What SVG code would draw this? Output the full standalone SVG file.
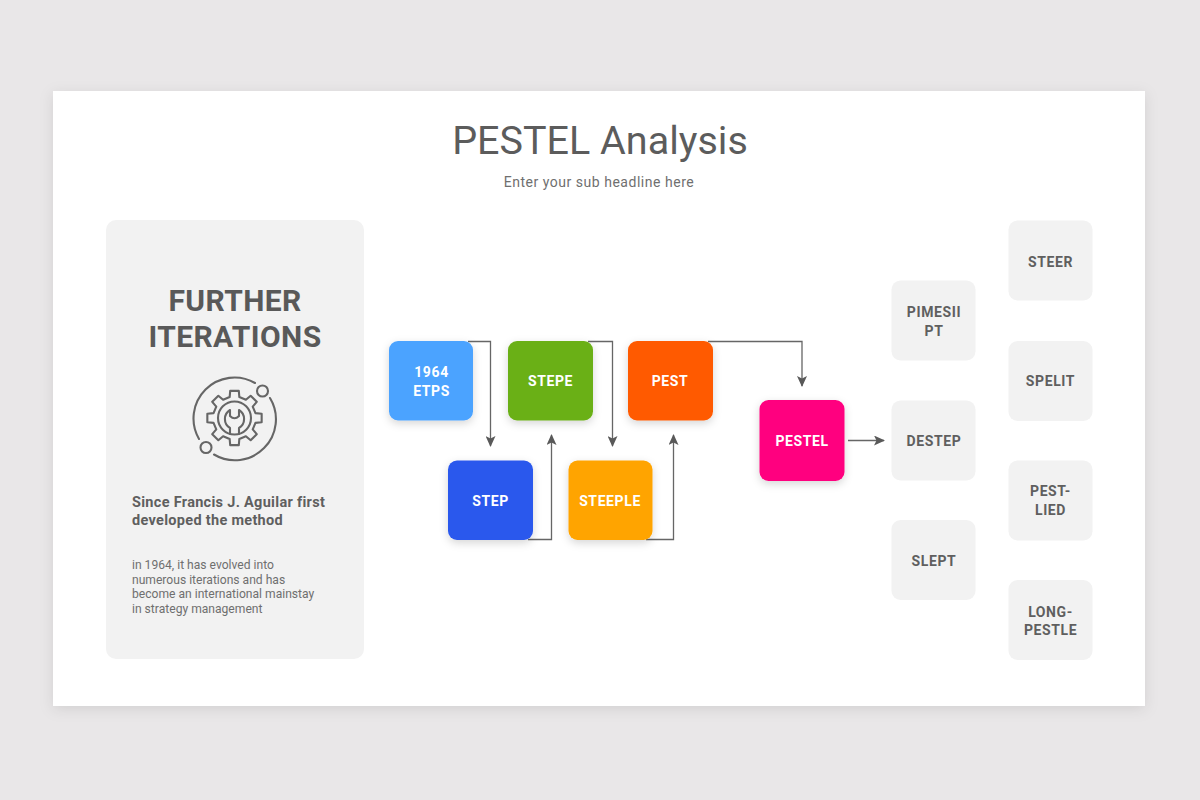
<svg xmlns="http://www.w3.org/2000/svg" width="1200" height="800" viewBox="0 0 1200 800">
<defs>
<filter id="cardShadow" x="-5%" y="-5%" width="110%" height="112%"><feDropShadow dx="0" dy="3" stdDeviation="7" flood-color="#000" flood-opacity="0.1"/></filter>
<filter id="nodeShadow" x="-20%" y="-20%" width="140%" height="150%"><feDropShadow dx="0" dy="3" stdDeviation="4" flood-color="#000" flood-opacity="0.16"/></filter>
<marker id="arrow" viewBox="0 0 11 10" markerWidth="11" markerHeight="10" refX="10" refY="5" orient="auto" markerUnits="userSpaceOnUse"><path d="M0 0L11 5L0 10L2.500 5Z" fill="#595959"/></marker>
</defs>
<style>
text{font-family:Roboto,"Liberation Sans",sans-serif;text-anchor:middle}
.n rect{filter:url(#nodeShadow)}
.n text{fill:#fff;font-size:14px;font-weight:700;letter-spacing:.6px}
.g rect{fill:#f2f2f2}
.g text{fill:#5f5f5f;font-size:14px;font-weight:700;letter-spacing:.6px}
.c path{fill:none;stroke:#666;stroke-width:1.3;marker-end:url(#arrow)}
.ic{fill:none;stroke:#666;stroke-width:2.100;stroke-linejoin:round;stroke-linecap:round}
.l{text-anchor:start;fill:#6f6f6f;font-size:12.100px}
.b{text-anchor:start;fill:#5f5f5f;font-size:14.500px;font-weight:700;letter-spacing:.3px}
.h{fill:#595959;font-size:30px;font-weight:700;letter-spacing:.4px}
</style>
<rect width="1200" height="800" fill="#e9e7e8"/>
<rect x="53" y="91" width="1092" height="615" fill="#fff" filter="url(#cardShadow)"/>
<text x="600" y="154" font-size="39.500" fill="#5c5c5c">PESTEL Analysis</text>
<text x="599" y="187" font-size="14" letter-spacing=".52" fill="#6f6f6f">Enter your sub headline here</text>
<g id="panel">
<rect x="106" y="220" width="258" height="439" rx="10" fill="#f2f2f2"/>
<text class="h" x="235" y="311">FURTHER</text>
<text class="h" x="235" y="347">ITERATIONS</text>
<g class="ic">
<path d="M255 383A41 41 0 0 0 199 439"/>
<path d="M270 398A41 41 0 0 1 214 454.500"/>
<circle cx="262.500" cy="391" r="5.500"/>
<circle cx="206" cy="447.500" r="5.500"/>
<path transform="translate(234.500 418)" d="M20.950 -4.840L27.160 -4.300V4.300L20.950 4.840L18.230 11.390L22.250 16.160L16.160 22.250L11.390 18.230L4.840 20.950L4.300 27.160H-4.300L-4.840 20.950L-11.390 18.230L-16.160 22.250L-22.250 16.160L-18.230 11.390L-20.950 4.840L-27.160 4.300V-4.300L-20.950 -4.840L-18.230 -11.390L-22.250 -16.160L-16.160 -22.250L-11.390 -18.230L-4.840 -20.950L-4.300 -27.160H4.300L4.840 -20.950L11.390 -18.230L16.160 -22.250L22.250 -16.160L18.230 -11.390Z"/>
<circle cx="234.500" cy="418" r="16.500"/>
<path d="M230 410A10.500 10.500 0 0 0 230 428V434M239 410A10.500 10.500 0 0 1 239 428V434M230 410V416Q234.500 420.500 239 416V410"/>
</g>
<text class="b" x="132" y="507">Since Francis J. Aguilar first</text>
<text class="b" x="132" y="525">developed the method</text>
<text class="l" x="132" y="569">in 1964, it has evolved into</text>
<text class="l" x="132" y="584">numerous iterations and has</text>
<text class="l" x="132" y="598">become an international mainstay</text>
<text class="l" x="132" y="613">in strategy management</text>
</g>
<g id="connectors" class="c">
<path d="M468 341.500H490.500V446"/>
<path d="M588 341.500H612.500V446"/>
<path d="M708 341.500H802V386"/>
<path d="M528 539.500H551.500V435"/>
<path d="M646 539.500H673.500V435"/>
<path d="M848 440.500H884"/>
</g>
<g id="n-1964" class="n"><rect x="389" y="341" width="84" height="79.500" rx="9" fill="#4ba3ff"/><text x="431.500" y="377">1964</text><text x="431.500" y="395.500">ETPS</text></g>
<g id="n-stepe" class="n"><rect x="508" y="341" width="85" height="79.500" rx="9" fill="#6ab016"/><text x="550.500" y="386">STEPE</text></g>
<g id="n-pest" class="n"><rect x="628" y="341" width="85" height="79.500" rx="9" fill="#ff5a00"/><text x="670" y="386">PEST</text></g>
<g id="n-step" class="n"><rect x="448" y="460.500" width="85" height="79.500" rx="9" fill="#2b58ed"/><text x="490.500" y="505.500">STEP</text></g>
<g id="n-steeple" class="n"><rect x="568.500" y="460.500" width="84" height="79.500" rx="9" fill="#ffa400"/><text x="610" y="505.500">STEEPLE</text></g>
<g id="n-pestel" class="n"><rect x="759.500" y="400" width="85" height="81" rx="9" fill="#ff007f"/><text x="802" y="445.500">PESTEL</text></g>
<g id="n-pimesii" class="g"><rect x="891.500" y="280.500" width="84" height="80" rx="9"/><text x="934" y="317">PIMESII</text><text x="934" y="335.500">PT</text></g>
<g id="n-destep" class="g"><rect x="891.500" y="400.500" width="84" height="80" rx="9"/><text x="934" y="445.500">DESTEP</text></g>
<g id="n-slept" class="g"><rect x="891.500" y="520" width="84" height="80" rx="9"/><text x="934" y="566">SLEPT</text></g>
<g id="n-steer" class="g"><rect x="1008.500" y="220.500" width="84" height="80" rx="9"/><text x="1050.500" y="266.500">STEER</text></g>
<g id="n-spelit" class="g"><rect x="1008.500" y="341" width="84" height="80" rx="9"/><text x="1050.500" y="386">SPELIT</text></g>
<g id="n-pest-lied" class="g"><rect x="1008.500" y="460.500" width="84" height="80" rx="9"/><text x="1050.500" y="496">PEST-</text><text x="1050.500" y="515">LIED</text></g>
<g id="n-long-pestle" class="g"><rect x="1008.500" y="580" width="84" height="80" rx="9"/><text x="1050.500" y="617">LONG-</text><text x="1050.500" y="635">PESTLE</text></g>
</svg>
